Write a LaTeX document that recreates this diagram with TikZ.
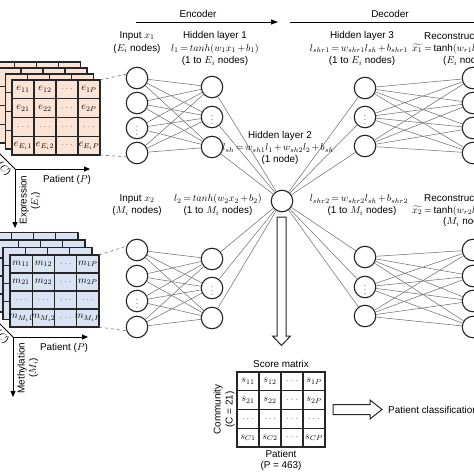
\documentclass[tikz,border=0pt]{standalone}
\usepackage{fontspec}
\setmainfont{Liberation Sans}
\usepackage{amsmath}
\usetikzlibrary{arrows.meta}
\definecolor{peach}{RGB}{251,228,213}
\definecolor{lblue}{RGB}{218,227,243}
\newcommand\gd{{\color{black!50}\cdots}}
\newcommand\gv{{\color{black!50}$\vdots$}}
\begin{document}
\thickmuskip=3mu\relax
\medmuskip=2mu\relax
\begin{tikzpicture}[x=1pt,y=-1pt,
  neuron/.style={circle,draw=black!85,line width=1.1pt,minimum size=21.5pt,inner sep=0pt,fill=white},
  conn/.style={draw=black!55,line width=0.55pt},
  txt/.style={font=\fontsize{9.9}{12}\selectfont,inner sep=0pt},
  ltxt/.style={txt,anchor=west},
  ent/.style={font=\fontsize{9.6}{11}\selectfont,inner sep=0pt},
  mline/.style={draw=black!85,line width=1.2pt,line cap=rect},
  axis/.style={draw=black,line width=1pt},
  dashline/.style={draw=black!55,line width=0.6pt,dashed},
  hollow/.style={draw=black!85,line width=1pt,fill=white}
]
\useasboundingbox (0,0) rectangle (474,474);

% ---------- top matrix stack (expression)
\foreach \k in {3,2,1,0}{
  \begin{scope}[shift={({-6.5*\k},{-6*\k})}]
    \fill[peach] (12,80) rectangle (100,155);
    \foreach \x in {12,34,56,78,100} \draw[mline] (\x,80) -- (\x,155);
    \foreach \y in {80,98.75,117.5,136.25,155} \draw[mline] (12,\y) -- (100,\y);
  \end{scope}}
\foreach \r/\yy/\la/\lb/\lc/\ld in {1/89.4/e_{11}/e_{12}/\gd/e_{1P},2/108.1/e_{21}/e_{22}/\gd/e_{2P},3/126.9/\gd/\gd/\gd/\gd,4/145.6/e_{E_i1}/e_{E_i2}/\gd/e_{E_iP}}{
  \node[ent] (te\r a) at (23,\yy) {$\la$};
  \node[ent] (te\r b) at (45,\yy) {$\lb$};
  \node[ent] (te\r c) at (67,\yy) {$\lc$};
  \node[ent] (te\r d) at (89,\yy) {$\ld$};
}
\coordinate (tmA) at (100,80);
\coordinate (tmB) at (100,155);

% top axes
\coordinate (ta) at (15,169);
\coordinate (taR) at (90,169);
\coordinate (taD) at (15,228);
\coordinate (taL) at (-6,148);
\draw[axis,-{Triangle[length=6pt,width=5pt]}] (ta) -- (taR);
\draw[axis,-{Triangle[length=6pt,width=5pt]}] (ta) -- (taD);
\draw[axis] (ta) -- (taL);
\node[txt,rotate=-45,anchor=north east] (tcom) at (12.5,171) {Community ($C$)};
\node[txt] (tpat) at (67,180) {Patient ($P$)};
\node[txt,rotate=90] (texp) at (24,200) {Expression};
\node[txt,rotate=90] (texpi) at (35.5,201) {($E_i$)};

% ---------- bottom matrix stack (methylation)
\foreach \k in {3,2,1,0}{
  \begin{scope}[shift={({-7*\k},{-7.5*\k})}]
    \fill[lblue] (10,255) rectangle (99,327);
    \foreach \x in {10,32.25,54.5,76.75,99} \draw[mline] (\x,255) -- (\x,327);
    \foreach \y in {255,273,291,309,327} \draw[mline] (10,\y) -- (99,\y);
  \end{scope}}
\foreach \r/\yy/\la/\lb/\lc/\ld in {1/264/m_{11}/m_{12}/\gd/m_{1P},2/282/m_{21}/m_{22}/\gd/m_{2P},3/300/\gd/\gd/\gd/\gd,4/318/m_{M_i1}/m_{M_i2}/\gd/m_{M_iP}}{
  \node[ent] (be\r a) at (21.1,\yy) {$\la$};
  \node[ent] (be\r b) at (43.4,\yy) {$\lb$};
  \node[ent] (be\r c) at (65.6,\yy) {$\lc$};
  \node[ent] (be\r d) at (87.9,\yy) {$\ld$};
}
\coordinate (bmA) at (99,255);
\coordinate (bmB) at (99,327);

% bottom axes
\coordinate (ba) at (13,337);
\coordinate (baR) at (88,337);
\coordinate (baD) at (13,397);
\coordinate (baL) at (-8,316);
\draw[axis,-{Triangle[length=6pt,width=5pt]}] (ba) -- (baR);
\draw[axis,-{Triangle[length=6pt,width=5pt]}] (ba) -- (baD);
\draw[axis] (ba) -- (baL);
\node[txt,rotate=-45,anchor=north east] (bcom) at (10.5,339) {Community ($C$)};
\node[txt] (bpat) at (64,348) {Patient ($P$)};
\node[txt,rotate=90] (bmet) at (22,368) {Methylation};
\node[txt,rotate=90] (bmeti) at (33.5,368) {($M_i$)};

% ---------- encoder / decoder
\coordinate (encA) at (136,22);
\coordinate (encB) at (278,22);
\coordinate (decA) at (290,22);
\coordinate (decB) at (480,22);
\draw[axis,-{Triangle[length=7pt,width=5pt]}] (encA) -- (encB);
\draw[axis] (decA) -- (decB);
\node[txt] (enc) at (198,14) {Encoder};
\node[txt] (dec) at (390,14) {Decoder};

% ---------- neurons
\foreach \i/\yy in {1/78,2/103,3/128,4/153} \node[neuron] (ia\i) at (137,\yy) {};
\foreach \i/\yy in {1/250,2/276,3/301,4/327} \node[neuron] (ib\i) at (137,\yy) {};
\foreach \i/\yy in {1/87,2/117,3/147} \node[neuron] (ha\i) at (212,\yy) {};
\foreach \i/\yy in {1/259,2/288,3/318} \node[neuron] (hb\i) at (212,\yy) {};
\node[neuron] (hs) at (282,201) {};
\foreach \i/\yy in {1/88,2/117,3/146} \node[neuron] (hc\i) at (365,\yy) {};
\foreach \i/\yy in {1/257,2/287,3/316} \node[neuron] (hd\i) at (365,\yy) {};
\foreach \i/\yy in {1/78,2/103,3/128,4/153} \node[neuron] (ra\i) at (473,\yy) {};
\foreach \i/\yy in {1/250,2/276,3/301,4/327} \node[neuron] (rb\i) at (473,\yy) {};
\node[inner sep=0pt] (dia) at (ia3) {\gv};
\node[inner sep=0pt] (dib) at (ib3) {\gv};
\node[inner sep=0pt] (dha) at (ha2) {\gv};
\node[inner sep=0pt] (dhb) at (hb2) {\gv};
\node[inner sep=0pt] (dhc) at (hc2) {\gv};
\node[inner sep=0pt] (dhd) at (hd2) {\gv};

% connections
\foreach \a in {1,...,4}{\foreach \b in {1,2,3}{
  \draw[conn] (ia\a) -- (ha\b);
  \draw[conn] (ib\a) -- (hb\b);
  \draw[conn] (hc\b) -- (ra\a);
  \draw[conn] (hd\b) -- (rb\a);
}}
\foreach \b in {1,2,3}{
  \draw[conn] (ha\b) -- (hs);
  \draw[conn] (hb\b) -- (hs);
  \draw[conn] (hs) -- (hc\b);
  \draw[conn] (hs) -- (hd\b);
}
\draw[dashline] (tmA) -- (ia1.160);
\draw[dashline] (tmB) -- (ia4.200);
\draw[dashline] (bmA) -- (ib1.160);
\draw[dashline] (bmB) -- (ib4.200);

% ---------- labels
\node[txt] (l1a) at (137,36) {Input $x_1$};
\node[txt] (l1b) at (137,48.5) {($E_i$ nodes)};
\node[txt] (l2a) at (215,36) {Hidden layer 1};
\node[txt] (l2b) at (215,48.5) {$l_1 = tanh(w_1x_1 + b_1)$};
\node[txt] (l2c) at (215,61) {(1 to $E_i$ nodes)};
\node[txt] (l3a) at (362,36) {Hidden layer 3};
\node[txt] (l3b) at (359,48.5) {$l_{shr1} = w_{shr1}l_{sh} + b_{shr1}$};
\node[txt] (l3c) at (362,61) {(1 to $E_i$ nodes)};
\node[ltxt] (l4a) at (424,36) {Reconstructed};
\node[ltxt] (l4b) at (412,48.5) {$\widetilde{x_1} = \mathrm{tanh}(w_{r1}l_{shr1} + b_{r1})$};
\node[ltxt] (l4c) at (443,61) {($E_i$ nodes)};
\node[txt] (l5a) at (280,136) {Hidden layer 2};
\node[txt] (l5b) at (278,148) {$l_{sh} = w_{sh1}l_1 + w_{sh2}l_2 + b_{sh}$};
\node[txt] (l5c) at (280,160) {(1 node)};
\node[txt] (l6a) at (137,199) {Input $x_2$};
\node[txt] (l6b) at (137,211) {($M_i$ nodes)};
\node[txt] (l7a) at (218,199) {$l_2 = tanh(w_2x_2 + b_2)$};
\node[txt] (l7b) at (218,211) {(1 to $M_i$ nodes)};
\node[txt] (l8a) at (359,199) {$l_{shr2} = w_{shr2}l_{sh} + b_{shr2}$};
\node[txt] (l8b) at (362,211) {(1 to $M_i$ nodes)};
\node[ltxt] (l9a) at (424,198) {Reconstructed};
\node[ltxt] (l9b) at (412,210.5) {$\widetilde{x_2} = \mathrm{tanh}(w_{r2}l_{shr2} + b_{r2})$};
\node[ltxt] (l9c) at (443,222) {($M_i$ nodes)};

% ---------- down arrow
\draw[hollow] (277,217) -- (286,217) -- (286,336) -- (290.5,336) -- (281.5,345.5) -- (272.5,336) -- (277,336) -- cycle;

% ---------- score matrix
\foreach \x in {237,259,281,303,325} \draw[mline] (\x,372) -- (\x,447);
\foreach \y in {372,390.75,409.5,428.25,447} \draw[mline] (237,\y) -- (325,\y);
\foreach \r/\yy/\la/\lb/\lc/\ld in {1/381.4/s_{11}/s_{12}/\gd/s_{1P},2/400.1/s_{21}/s_{22}/\gd/s_{2P},3/418.9/\gd/\gd/\gd/\gd,4/437.6/s_{C1}/s_{C2}/\gd/s_{CP}}{
  \node[ent] (se\r a) at (248,\yy) {$\la$};
  \node[ent] (se\r b) at (270,\yy) {$\lb$};
  \node[ent] (se\r c) at (292,\yy) {$\lc$};
  \node[ent] (se\r d) at (314,\yy) {$\ld$};
}
\node[txt] (sm) at (281,364) {Score matrix};
\node[txt,rotate=90] (scom) at (218,409.5) {Community};
\node[txt,rotate=90] (scn) at (230,409.5) {(C = 21)};
\node[txt] (spat) at (281,454) {Patient};
\node[txt] (spn) at (281,466) {(P = 463)};

% right arrow
\draw[hollow] (333,404.5) -- (370,404.5) -- (370,400) -- (382,409.5) -- (370,419) -- (370,414.5) -- (333,414.5) -- cycle;
\node[ltxt] (pc) at (388,409.5) {Patient classification};
\end{tikzpicture}
\end{document}
